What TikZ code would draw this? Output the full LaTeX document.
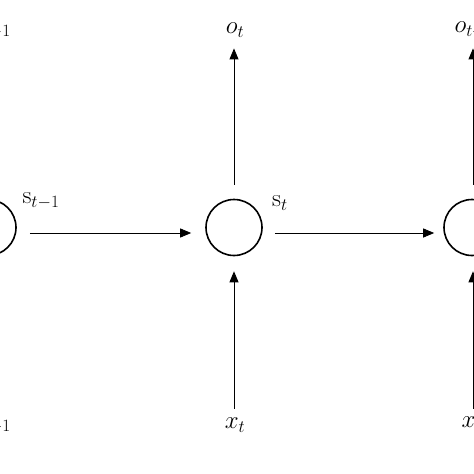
\documentclass[tikz,border=0pt]{standalone}
\usepackage{tikz}
\usetikzlibrary{arrows.meta}
\tikzset{
  cell/.style={draw, circle, minimum size=56pt, inner sep=0pt, line width=1.6pt},
  flow/.style={-{Triangle[length=11pt,width=9pt]}, line width=0.9pt},
  lab/.style={font=\fontsize{25}{30}\selectfont, inner sep=0pt}
}
\begin{document}
\begin{tikzpicture}[x=1pt,y=-1pt]
  \useasboundingbox (0,0) rectangle (474,474);
  % recurrent cells
  \node[cell] (cellprev) at (-12,227.5) {};
  \node[cell] (cell) at (234,227.5) {};
  \node[cell] (cellnext) at (472,227.5) {};
  % outputs and inputs
  \node[lab] (outprev) at (-9,30) {$o_{t-1}$};
  \node[lab] (out) at (235,30) {$o_t$};
  \node[lab] (outnext) at (474,30) {$o_{t+1}$};
  \node[lab] (inprev) at (-10,425) {$x_{t-1}$};
  \node[lab] (in) at (235,425) {$x_t$};
  \node[lab] (innext) at (482,425) {$x_{t+1}$};
  % hidden state labels
  \node[lab] (sprev) at (41,201) {$\mathrm{s}_{t-1}$};
  \node[lab] (scur) at (280,203) {$\mathrm{s}_t$};
  \draw[flow, shorten <=13pt, shorten >=14pt] ([yshift=-5.5pt]cellprev.east) -- ([yshift=-5.5pt]cell.west);
  \draw[flow, shorten <=12pt, shorten >=9pt] ([yshift=-5.5pt]cell.east) -- ([yshift=-5.5pt]cellnext.west);
  \draw[flow, shorten <=14pt, shorten >=11pt] (cell.north) -- (out.south -| cell.north);
  \draw[flow, shorten <=9pt, shorten >=15pt] (in.north -| cell.south) -- (cell.south);
  \draw[flow, shorten <=14pt, shorten >=11pt] ([xshift=1pt]cellnext.north) -- ([xshift=1pt]out.south -| cellnext.north);
  \draw[flow, shorten <=9pt, shorten >=15pt] ([xshift=1pt]in.north -| cellnext.south) -- ([xshift=1pt]cellnext.south);
\end{tikzpicture}
\end{document}
